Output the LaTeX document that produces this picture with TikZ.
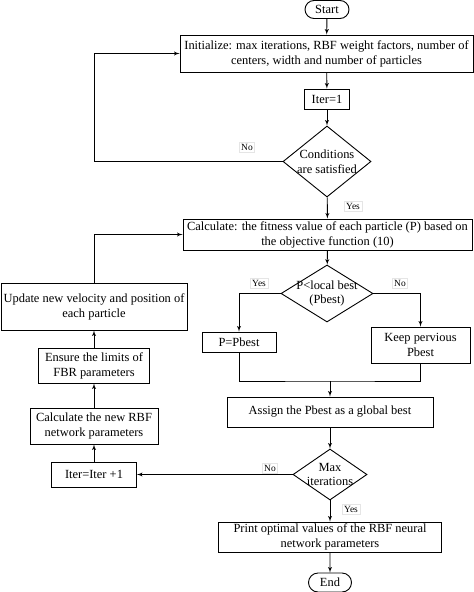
\documentclass[tikz,border=0pt]{standalone}
\usepackage{fontspec}
\setmainfont{Liberation Serif}
\usetikzlibrary{shapes,arrows,positioning}

\begin{document}
\begin{tikzpicture} [x=1bp, y=-1bp, >=latex', line width=0.9bp, font=\fontsize{12.5}{15}\selectfont]
            % Set primary nodes
            \tikzset{
                stepNode/.style={
                        draw,
                        rectangle,
                        align=center,
                        inner sep=1bp
                    }
            }
            \tikzset{
                termNode/.style={
                        draw,
                        rounded rectangle,
                        minimum width=46bp,
                        minimum height=18bp,
                        inner sep=1bp
                    }
            }
            \tikzset{
                decisionNode/.style={
                        draw,
                        diamond,
                        align=center,
                        inner sep=-6bp
                    }
            }
            \tikzset{
                answerNode/.style={
                        draw=gray!20,
                        line width=0.6bp,
                        fill=white,
                        inner sep=2bp,
                        font=\fontsize{9.5}{11}\selectfont
                    }
            }
            % Configure arrows
            \tikzstyle{arrow} = [->]
            \useasboundingbox (0,0) rectangle (474,592);
            % Placing nodes
            \node[termNode](start) at (327,9.5){Start};
            \node[stepNode, minimum width=293bp, minimum height=37bp](init) at (326.5,53.5){Initialize: max iterations, RBF weight factors, number of\\centers, width and number of particles};
            \node[stepNode, minimum width=45bp, minimum height=20bp](iter) at (327,99){Iter=1};
            \node[decisionNode, aspect=1.24, minimum width=88bp, minimum height=71bp](cond) at (327,161.5){Conditions\\are satisfied};
            \node[stepNode, minimum width=289bp, minimum height=31bp](fitness) at (327.5,234.5){Calculate: the fitness value of each particle (P) based on\\the objective function (10)};
            \node[decisionNode, aspect=1.61, minimum width=92bp, minimum height=57bp](local) at (327,293.5){P<local best\\(Pbest)};
            \node[stepNode, minimum width=74bp, minimum height=20bp](pbest) at (239,342){P=Pbest};
            \node[stepNode, minimum width=99bp, minimum height=36bp](keep) at (420.5,345){Keep pervious\\Pbest};
            \node[stepNode, minimum width=206bp, minimum height=30bp](global) at (330,412){Assign the Pbest as a global best};
            \node[decisionNode, aspect=1.45, minimum width=74bp, minimum height=51bp](maxit) at (330,474.5){Max\\iterations};
            \node[stepNode, minimum width=223bp, minimum height=30bp](print) at (330,537){Print optimal values of the RBF neural\\network parameters};
            \node[termNode, minimum width=45bp, minimum height=19bp](stop) at (330,582.5){End};
            \node[stepNode, minimum width=186bp, minimum height=47bp](update) at (94,306.5){Update new velocity and position of\\each particle};
            \node[stepNode, minimum width=111bp, minimum height=35bp](limits) at (94,365.5){Ensure the limits of\\FBR parameters};
            \node[stepNode, minimum width=128bp, minimum height=36bp](rbf) at (94,426){Calculate the new RBF\\network parameters};
            \node[stepNode, minimum width=85bp, minimum height=25bp](incr) at (94,474.5){Iter=Iter +1};
            \coordinate (merge) at (330,381);
            % Draw arrows
            \draw[arrow](start) -- (init);
            \draw[arrow](init) -- (iter);
            \draw[arrow](iter) -- (cond);
            \draw[arrow](cond.west) -- (cond.west -| update) |- (init.west);
            \draw[arrow](cond) -- (fitness);
            \draw[arrow](fitness) -- (local);
            \draw[arrow](local.west) -| (pbest.north);
            \draw[arrow](local.east) -| (keep.north);
            \draw(pbest.south) |- (merge) -| (keep.south);
            \draw[arrow](merge) -- (global);
            \draw[arrow](global) -- (maxit);
            \draw[arrow](maxit) -- (incr);
            \draw[arrow](maxit) -- (print);
            \draw[arrow](print) -- (stop);
            \draw[arrow](incr) -- (rbf);
            \draw[arrow](rbf) -- (limits);
            \draw[arrow](limits) -- (update);
            \draw[arrow](update.north) |- (fitness.west);
            % Answers
            \node[answerNode](condNo) at (247,147){No};
            \node[answerNode](condYes) at (353,206){Yes};
            \node[answerNode](localYes) at (259,283){Yes};
            \node[answerNode](localNo) at (400,283){No};
            \node[answerNode](maxNo) at (270,468){No};
            \node[answerNode](maxYes) at (351,509){Yes};
        \end{tikzpicture}
\end{document}
